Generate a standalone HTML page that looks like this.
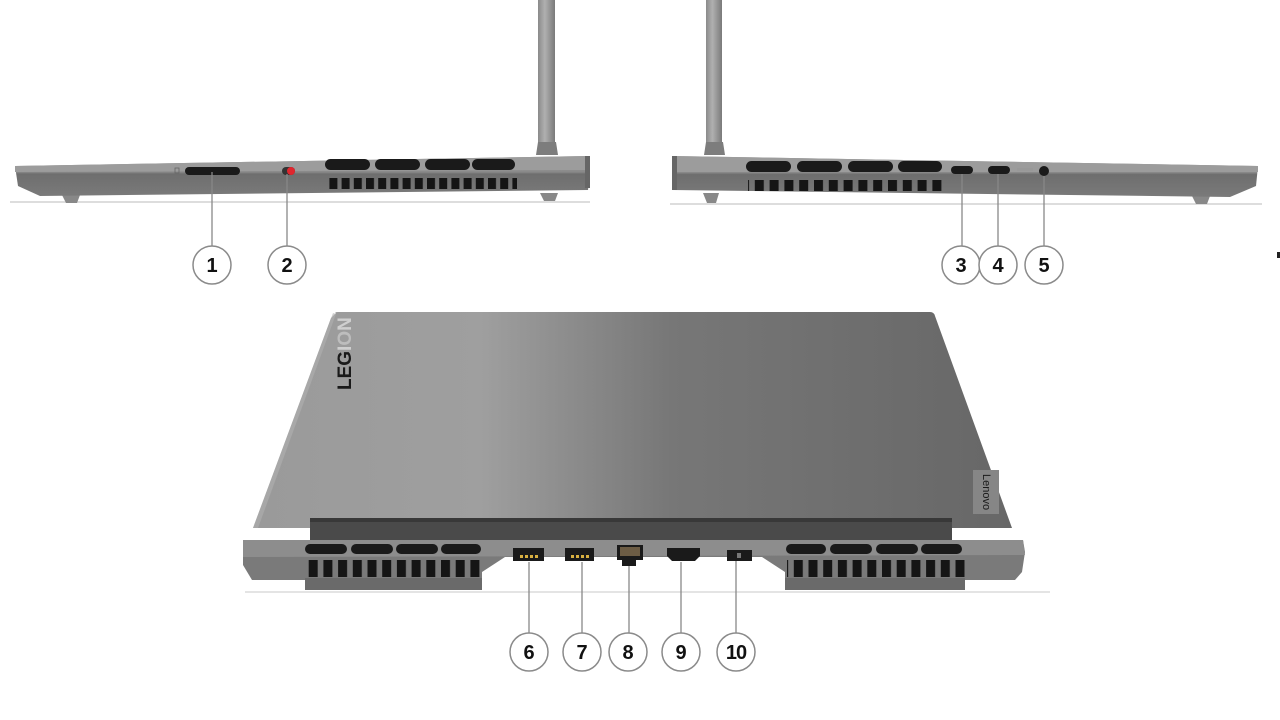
<!DOCTYPE html>
<html><head><meta charset="utf-8"><style>
html,body{margin:0;padding:0;background:#fff;width:1280px;height:720px;overflow:hidden}
svg{display:block}
text{font-family:"Liberation Sans",sans-serif;font-weight:bold}
</style></head><body>
<svg width="1280" height="720" viewBox="0 0 1280 720" xmlns="http://www.w3.org/2000/svg">
<defs>
<linearGradient id="lid" x1="0" y1="0" x2="1" y2="0">
<stop offset="0" stop-color="#9a9a9a"/><stop offset="0.3" stop-color="#9f9f9f"/><stop offset="0.55" stop-color="#777"/><stop offset="1" stop-color="#676767"/></linearGradient>
<linearGradient id="side" x1="0" y1="0" x2="0" y2="1">
<stop offset="0" stop-color="#9a9a9a"/><stop offset="0.4" stop-color="#8a8a8a"/><stop offset="0.45" stop-color="#6e6e6e"/><stop offset="1" stop-color="#7a7a7a"/></linearGradient>
<linearGradient id="arm" x1="0" y1="0" x2="1" y2="0">
<stop offset="0" stop-color="#8a8a8a"/><stop offset="0.4" stop-color="#b0b0b0"/><stop offset="1" stop-color="#7a7a7a"/></linearGradient>
<pattern id="grill" x="0" y="0" width="12.2" height="20" patternUnits="userSpaceOnUse"><rect x="0" y="0" width="8" height="20" fill="#151515"/></pattern>
<pattern id="grill2" x="0" y="0" width="14.7" height="20" patternUnits="userSpaceOnUse"><rect x="0" y="0" width="9" height="20" fill="#151515"/></pattern>
<pattern id="grill3" x="0" y="0" width="14.8" height="20" patternUnits="userSpaceOnUse"><rect x="0" y="0" width="9" height="20" fill="#151515"/></pattern>
</defs>

<!-- LEFT SIDE VIEW -->
<rect x="538" y="0" width="17" height="150" fill="url(#arm)"/>
<path d="M536 155 L538 142 L556 142 L558 155Z" fill="#7d7d7d"/>
<line x1="10" y1="202" x2="590" y2="202" stroke="#ddd" stroke-width="2"/>
<path d="M62 195 L80 195 L77 203 L66 203Z" fill="#888"/>
<path d="M540 193 L558 193 L555 201 L544 201Z" fill="#888"/>
<path d="M15 166 L588 156 L590 172 L588 190 L40 196 L18 186Z" fill="url(#side)"/>
<path d="M15 166 L588 156 L590 170 L15 172Z" fill="#9c9c9c"/>
<rect x="585" y="156" width="5" height="32" fill="#666"/>
<rect x="185" y="167" width="55" height="8" rx="4" fill="#1a1a1a"/>
<rect x="175" y="168" width="4" height="5" fill="none" stroke="#666" stroke-width="0.8"/>
<rect x="282" y="167" width="13" height="8" rx="4" fill="#333"/>
<circle cx="291" cy="171" r="4" fill="#e0262e"/>
<g fill="#1a1a1a">
<rect x="325" y="159" width="45" height="11" rx="5.5"/><rect x="375" y="159" width="45" height="11" rx="5.5"/><rect x="425" y="159" width="45" height="11" rx="5.5"/><rect x="472" y="159" width="43" height="11" rx="5.5"/>
</g>
<rect x="327" y="178" width="190" height="11" fill="url(#grill)"/>
<line x1="212" y1="172" x2="212" y2="246" stroke="#888" stroke-width="1.3"/>
<line x1="287" y1="174" x2="287" y2="246" stroke="#888" stroke-width="1.3"/>

<!-- RIGHT SIDE VIEW -->
<rect x="706" y="0" width="16" height="150" fill="url(#arm)"/>
<path d="M704 155 L706 142 L723 142 L725 155Z" fill="#7d7d7d"/>
<line x1="670" y1="204" x2="1262" y2="204" stroke="#ddd" stroke-width="2"/>
<path d="M703 193 L719 193 L716 203 L707 203Z" fill="#888"/>
<path d="M1192 196 L1210 196 L1207 204 L1196 204Z" fill="#888"/>
<path d="M672 156 L1258 166 L1256 186 L1230 197 L672 190Z" fill="url(#side)"/>
<path d="M672 156 L1258 166 L1258 172 L672 172Z" fill="#9c9c9c"/>
<rect x="672" y="156" width="5" height="34" fill="#666"/>
<g fill="#1a1a1a">
<rect x="746" y="161" width="45" height="11" rx="5.5"/><rect x="797" y="161" width="45" height="11" rx="5.5"/><rect x="848" y="161" width="45" height="11" rx="5.5"/><rect x="898" y="161" width="44" height="11" rx="5.5"/>
<rect x="951" y="166" width="22" height="8" rx="4"/><rect x="988" y="166" width="22" height="8" rx="4"/>
</g>
<rect x="1017" y="168" width="16" height="3" fill="#999"/>
<circle cx="1044" cy="171" r="5" fill="#1a1a1a"/>
<rect x="748" y="180" width="196" height="11" fill="url(#grill3)"/>
<line x1="962" y1="174" x2="962" y2="246" stroke="#888" stroke-width="1.3"/>
<line x1="998" y1="174" x2="998" y2="246" stroke="#888" stroke-width="1.3"/>
<line x1="1044" y1="176" x2="1044" y2="246" stroke="#888" stroke-width="1.3"/>

<!-- REAR VIEW -->
<path d="M336 313 Q334 312 338 312 L930 312 Q934 312 935 316 L1012 528 L253 528 L331 318Z" fill="url(#lid)"/>
<path d="M333 313 L253 528 L258 528 L336 314Z" fill="#b0b0b0" opacity="0.6"/>
<text transform="translate(351,390) rotate(-90)" font-size="19" fill="#1a1a1a">LEG<tspan fill="#cfcfcf">I</tspan><tspan fill="#bdbdbd">O</tspan><tspan fill="#cfcfcf">N</tspan></text>
<rect x="973" y="470" width="26" height="44" fill="#868686"/>
<text transform="translate(983,474) rotate(90)" font-size="11" fill="#1a1a1a" style="font-weight:normal">Lenovo</text>
<rect x="310" y="518" width="642" height="22" fill="#4a4a4a"/>
<rect x="310" y="518" width="642" height="4" fill="#383838"/>
<path d="M243 540 L1023 540 L1025 552 L1022 572 L1015 580 L965 580 L965 590 L785 590 L785 572 L762 557 L505 557 L482 572 L482 590 L305 590 L305 580 L252 580 L243 565Z" fill="#7a7a7a"/>
<path d="M243 540 L1023 540 L1025 555 L243 557Z" fill="#8d8d8d"/>
<path d="M305 578 L305 590 L482 590 L482 578Z M785 578 L785 590 L965 590 L965 578Z" fill="#6a6a6a"/>
<line x1="245" y1="592" x2="1050" y2="592" stroke="#e4e4e4" stroke-width="2"/>
<g fill="#1a1a1a">
<rect x="305" y="544" width="42" height="10" rx="5"/><rect x="351" y="544" width="42" height="10" rx="5"/><rect x="396" y="544" width="42" height="10" rx="5"/><rect x="441" y="544" width="40" height="10" rx="5"/>
<rect x="786" y="544" width="40" height="10" rx="5"/><rect x="830" y="544" width="42" height="10" rx="5"/><rect x="876" y="544" width="42" height="10" rx="5"/><rect x="921" y="544" width="41" height="10" rx="5"/>
<rect x="513" y="548" width="31" height="13"/><rect x="565" y="548" width="29" height="13"/>
<rect x="617" y="545" width="26" height="15"/><rect x="622" y="558" width="14" height="8"/>
<path d="M667 548 L700 548 L700 556 L695 561 L672 561 L667 556Z"/>
<rect x="727" y="550" width="25" height="11"/>
</g>
<rect x="307" y="560" width="176" height="17" fill="url(#grill2)"/>
<rect x="787" y="560" width="178" height="17" fill="url(#grill2)"/>
<g fill="#d8b040"><rect x="520" y="555" width="3" height="3"/><rect x="525" y="555" width="3" height="3"/><rect x="530" y="555" width="3" height="3"/><rect x="535" y="555" width="3" height="3"/>
<rect x="571" y="555" width="3" height="3"/><rect x="576" y="555" width="3" height="3"/><rect x="581" y="555" width="3" height="3"/><rect x="586" y="555" width="3" height="3"/></g>
<rect x="620" y="547" width="20" height="9" fill="#bfa070" opacity="0.5"/>
<rect x="737" y="553" width="4" height="5" fill="#777"/>
<g stroke="#888" stroke-width="1.3">
<line x1="529" y1="562" x2="529" y2="633"/><line x1="582" y1="562" x2="582" y2="633"/><line x1="629" y1="566" x2="629" y2="633"/><line x1="681" y1="562" x2="681" y2="633"/><line x1="736" y1="561" x2="736" y2="633"/>
</g>

<!-- CALLOUTS -->
<g fill="#fff" stroke="#8a8a8a" stroke-width="1.5">
<circle cx="212" cy="265" r="19"/><circle cx="287" cy="265" r="19"/>
<circle cx="961" cy="265" r="19"/><circle cx="998" cy="265" r="19"/><circle cx="1044" cy="265" r="19"/>
<circle cx="529" cy="652" r="19"/><circle cx="582" cy="652" r="19"/><circle cx="628" cy="652" r="19"/><circle cx="681" cy="652" r="19"/><circle cx="736" cy="652" r="19"/>
</g>
<g font-size="20" fill="#111" text-anchor="middle">
<text x="212" y="272">1</text><text x="287" y="272">2</text>
<text x="961" y="272">3</text><text x="998" y="272">4</text><text x="1044" y="272">5</text>
<text x="529" y="659">6</text><text x="582" y="659">7</text><text x="628" y="659">8</text><text x="681" y="659">9</text><text x="736" y="659" letter-spacing="-1">10</text>
</g>
<rect x="1277" y="252" width="3" height="6" fill="#222"/>
</svg>
</body></html>
